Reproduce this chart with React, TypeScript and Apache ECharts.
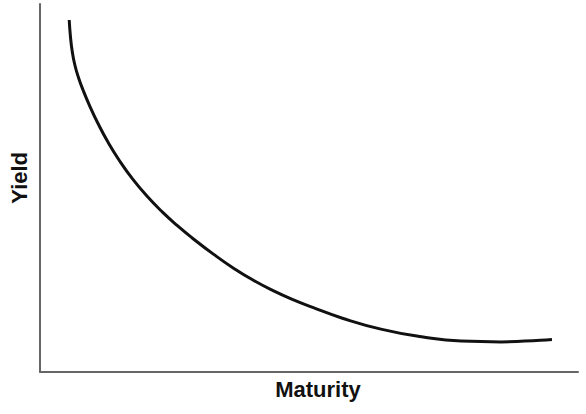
import { useEffect, useRef } from 'react';
import * as echarts from 'echarts';

// points (x: maturity 0-100, y: yield 0-100)
const maturity = [
  5.43, 5.65, 5.98, 6.48, 7.18, 8.0, 9.29, 10.76, 12.6, 14.81, 17.2, 19.96, 22.72, 25.48,
  28.24, 32.29, 35.97, 39.65, 43.33, 47.01, 50.69, 56.21, 63.57, 70.93, 78.29, 85.65, 93.01, 95.16,
];
const yieldValues = [
  95.65, 91.3, 87.22, 83.41, 79.88, 76.61, 72.12, 67.56, 62.52, 57.3, 52.43, 47.62, 43.46, 39.79,
  36.44, 31.9, 28.15, 24.88, 22.06, 19.61, 17.49, 14.55, 11.5, 9.49, 8.32, 8.1, 8.57, 8.76,
];

const axisColor = '#666666';
const textColor = '#111111';
const fontFamily = '"Liberation Sans", Arial, sans-serif';

export default function App() {
  const chartRef = useRef<HTMLDivElement>(null);

  useEffect(() => {
    if (!chartRef.current) return;
    const chart = echarts.init(chartRef.current, null, { renderer: 'svg' });

    const option: echarts.EChartsOption = {
      animation: false,
      backgroundColor: '#ffffff',
      grid: { left: 34.5, right: 8, top: 4, bottom: 42.3 },
      xAxis: {
        type: 'value',
        min: 0,
        max: 100,
        name: 'Maturity',
        nameLocation: 'middle',
        nameGap: 7,
        nameTextStyle: {
          color: textColor,
          fontSize: 22,
          fontWeight: 'bold',
          fontFamily,
          verticalAlign: 'top',
          padding: [0, 0, 0, 18],
        },
        axisLine: { show: true, lineStyle: { color: axisColor, width: 2 } },
        axisTick: { show: false },
        axisLabel: { show: false },
        splitLine: { show: false },
      },
      yAxis: {
        type: 'value',
        min: 0,
        max: 100,
        name: 'Yield',
        nameLocation: 'middle',
        nameGap: 10,
        nameRotate: 90,
        nameTextStyle: {
          color: textColor,
          fontSize: 22,
          fontWeight: 'bold',
          fontFamily,
          padding: [0, 0, 0, 20],
        },
        axisLine: { show: true, lineStyle: { color: axisColor, width: 2 } },
        axisTick: { show: false },
        axisLabel: { show: false },
        splitLine: { show: false },
      },
      series: [
        {
          type: 'line',
          data: maturity.map((m, i) => [m, yieldValues[i]]),
          smooth: 0.5,
          showSymbol: false,
          lineStyle: { color: textColor, width: 3 },
        },
      ],
    };

    chart.setOption(option);

    return () => {
      chart.dispose();
    };
  }, []);

  return (
    <div
      ref={chartRef}
      style={{ position: 'fixed', left: 0, top: 0, width: '586px', height: '414px' }}
    ></div>
  );
}
